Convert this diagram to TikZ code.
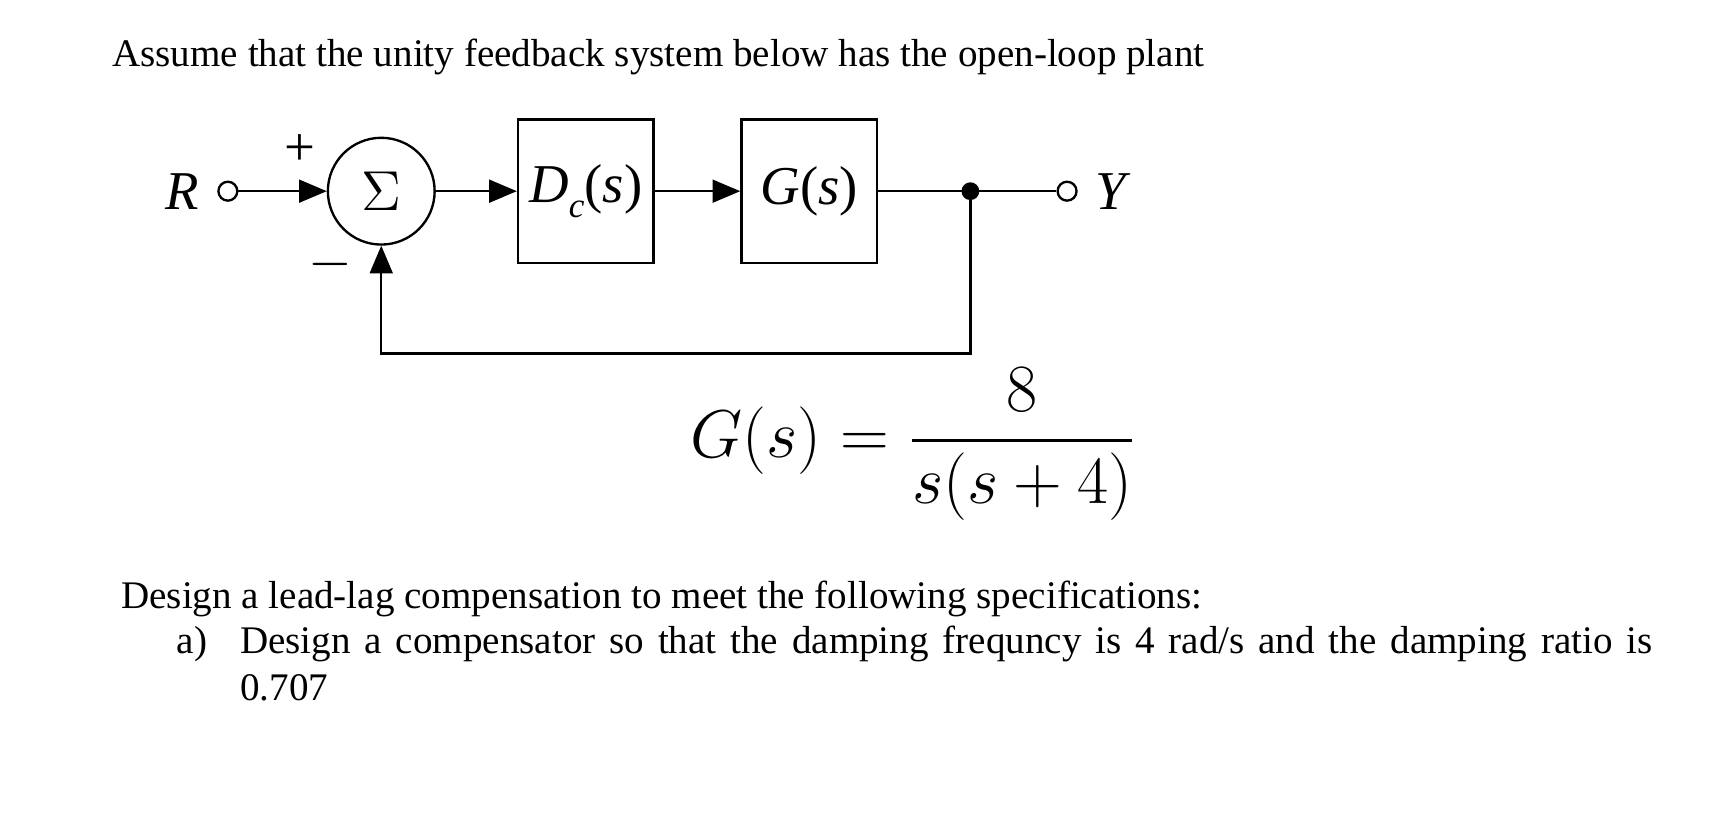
\documentclass[tikz,border=0pt]{standalone}
\usepackage{amsmath}
\usepackage{fontspec}
\setmainfont{Liberation Serif}
\usepackage{tikz}
\usetikzlibrary{arrows,calc,positioning}
\tikzstyle{block} = [rectangle, draw, minimum width=1.22cm, minimum height=1.29cm, inner sep=0pt, font=\fontsize{14}{16}\selectfont]
\tikzstyle{sum} = [circle, draw, minimum size=0.96cm, inner sep=0pt, font=\fontsize{14}{16}\selectfont]
\tikzstyle{port} = [circle, draw, minimum size=0.17cm, inner sep=0pt]
\tikzstyle{sig} = [draw, line width=0.6pt, -triangle 45]
\tikzstyle{txt} = [anchor=west, inner sep=0pt, font=\fontsize{10}{12}\selectfont]

\begin{document}
\begin{tikzpicture}[x=0.01cm, y=-0.01cm, line width=0.6pt]
    \useasboundingbox (0,0) rectangle (1560,740);
    \node[txt, anchor=base west] (intro) at (100,60) {Assume that the unity feedback system below has the open-loop plant};
    % block diagram
    \node[sum] (sigma) at (343,172) {$\Sigma$};
    \node[block] (comp) at (527,172) {\textit{D}\raisebox{-0.6ex}{\textit{\small c}}(\textit{s})};
    \node[block] (plant) at (728,172) {\textit{G}(\textit{s})};
    \node[port] (rin) at (205,172) {};
    \node[port] (yout) at (960,172) {};
    \node[left=1pt of rin, font=\fontsize{14}{16}\selectfont\itshape] (rlab) {R};
    \node[right=1pt of yout, font=\fontsize{14}{16}\selectfont\itshape] (ylab) {Y};
    \node[font=\fontsize{14}{16}\selectfont] (plus) at (270,135) {+};
    \node[font=\fontsize{14}{16}\selectfont] (minus) at (297,238) {$-$};
    \fill (873,172) circle (0.08cm) coordinate (tap);
    \coordinate (corner) at (873,318);
    % draw arrows
    \path[sig] (rin) -- (sigma);
    \path[sig] (sigma) -- (comp);
    \path[sig] (comp) -- (plant);
    \draw (plant) -- (yout);
    \path[sig] (tap) -- (corner) -| (sigma);
    % equation
    \node[font=\fontsize{18}{22}\selectfont] (eqn) at (822,400) {$G(s)=\dfrac{8}{s(s+4)}$};
    % question
    \node[txt, anchor=base west] (task) at (108,547) {Design a lead-lag compensation to meet the following specifications:};
    \node[txt, anchor=base west] (item) at (158,588) {a)};
    \node[txt, anchor=base west, text width=12.7cm, align=justify] (spec) at (215,588) {Design a compensator so that the damping frequncy is 4 rad/s and the damping ratio is\linebreak 0.707};
\end{tikzpicture}
\end{document}
